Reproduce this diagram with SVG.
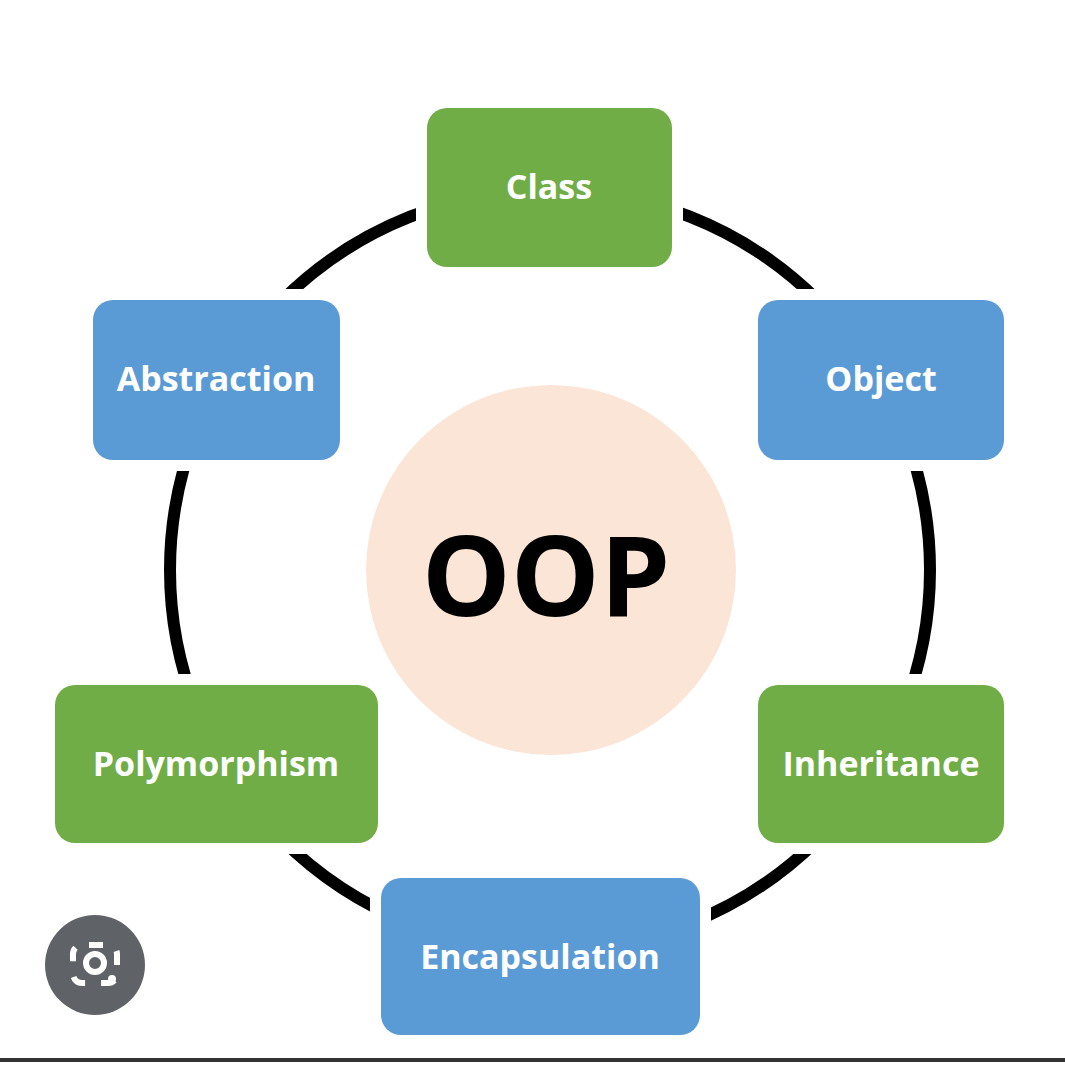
<svg xmlns="http://www.w3.org/2000/svg" width="1065" height="1065" viewBox="0 0 1065 1065">
<style>
.n{stroke:#fff;stroke-width:22;paint-order:stroke fill}
.g{fill:#70AD47}.b{fill:#5B9BD5}
.t{font-family:"Open Sans","Liberation Sans",sans-serif;font-weight:bold;font-size:34px;fill:#fff;text-anchor:middle;dominant-baseline:central}
</style>
<rect width="1065" height="1065" fill="#fff"/>
<g id="connectors"><circle cx="550" cy="570" r="380" fill="none" stroke="#000" stroke-width="12"/></g>
<g id="center"><circle cx="551" cy="570" r="185" fill="#FBE5D6"/><text x="546" y="572" font-family="Open Sans,Liberation Sans,sans-serif" font-weight="bold" font-size="112" text-anchor="middle" dominant-baseline="central">OOP</text></g>
<g id="class"><rect class="n g" x="427" y="108" width="245" height="159" rx="20"/><text class="t" x="549" y="186">Class</text></g>
<g id="object"><rect class="n b" x="758" y="300" width="246" height="160" rx="20"/><text class="t" x="881" y="378">Object</text></g>
<g id="abstraction"><rect class="n b" x="93" y="300" width="247" height="160" rx="20"/><text class="t" x="216" y="378">Abstraction</text></g>
<g id="polymorphism"><rect class="n g" x="55" y="685" width="323" height="158" rx="20"/><text class="t" x="216" y="763">Polymorphism</text></g>
<g id="inheritance"><rect class="n g" x="758" y="685" width="246" height="158" rx="20"/><text class="t" x="881" y="763">Inheritance</text></g>
<g id="encapsulation"><rect class="n b" x="381" y="878" width="319" height="157" rx="20"/><text class="t" x="540" y="956">Encapsulation</text></g>
<g id="lens"><circle cx="95" cy="965" r="50" fill="#5f6368"/>
<rect x="73" y="945" width="44" height="38" rx="9" fill="none" stroke="#fff" stroke-width="6" stroke-dasharray="14 16" stroke-dashoffset="-7"/>
<circle cx="95" cy="963" r="9" fill="none" stroke="#fff" stroke-width="6"/><circle cx="112" cy="979" r="4" fill="#fff"/></g>
<rect x="0" y="1058" width="1065" height="4" fill="#333"/>
</svg>
